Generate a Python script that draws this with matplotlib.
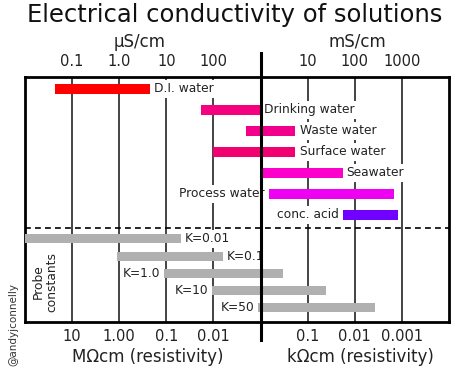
import matplotlib
matplotlib.use("Agg")
import matplotlib.pyplot as plt
import matplotlib.transforms as mtransforms

# ---- data (conductivity in µS/cm) ----
categories = ["D.I. water", "Drinking water", "Waste water", "Surface water",
              "Seawater", "Process water", "conc. acid"]
cond_low = [0.044, 55, 500, 100, 1000, 1500, 55000]
cond_high = [4.5, 950, 5500, 5500, 55000, 680000, 820000]
colors = ["#ff0000", "#f5007f", "#f2008c", "#f00070", "#fc00cc", "#ee00f2", "#7000ff"]
label_side = ["right", "right", "right", "right", "right", "left", "left"]

probes = ["K=0.01", "K=0.1", "K=1.0", "K=10", "K=50"]
probe_low = [0.01, 0.9, 9, 95, 900]
probe_high = [20, 160, 3000, 25000, 270000]
probe_side = ["right", "right", "left", "left", "left"]

tick_vals = [1e-1, 1e0, 1e1, 1e2, 1e3, 1e4, 1e5, 1e6]
top_labels = ["0.1", "1.0", "10", "100", "", "10", "100", "1000"]
bottom_labels = ["10", "1.00", "0.1", "0.01", "", "0.1", "0.01", "0.001"]

fig = plt.figure(figsize=(4.74, 3.70), dpi=100)
ax = fig.add_axes([25/474, 1-322/370, 424/474, 245/370])
ax.set_xscale("log")
ax.set_xlim(1e-2, 1e7)
ax.set_ylim(11.1, -0.57)

for s in ax.spines.values():
    s.set_linewidth(2.0)
    s.set_color("black")

ax.set_xticks(tick_vals)
ax.set_xticks([], minor=True)
ax.set_xticklabels(top_labels)
ax.tick_params(axis="x", length=0, top=False, bottom=False, labeltop=True,
               labelbottom=False, labelsize=10.5, pad=6, colors="#222222")
ax.set_yticks([])
ax.grid(axis="x", color="#111111", linewidth=1.1, zorder=0)
ax.set_axisbelow(True)

sec = ax.secondary_xaxis("bottom")
sec.set_xticks(tick_vals)
sec.set_xticklabels(bottom_labels)
sec.set_xticks([], minor=True)
sec.tick_params(axis="x", length=0, labelsize=10.5, pad=5, colors="#222222")
sec.spines["bottom"].set_visible(False)

bbox_kw = dict(boxstyle="square,pad=0.2", fc="white", ec="none")

# coloured bars
h = 0.48
for i, (lab, lo, hi, c, side) in enumerate(zip(categories, cond_low, cond_high, colors, label_side)):
    ax.barh(i, hi - lo, left=lo, height=h, color=c, zorder=3)
    if side == "right":
        ax.annotate(lab, xy=(hi, i), xytext=(3, 0), textcoords="offset points",
                    ha="left", va="center", fontsize=8.8, color="#222222", bbox=bbox_kw, zorder=4)
    else:
        ax.annotate(lab, xy=(lo, i), xytext=(-3, 0), textcoords="offset points",
                    ha="right", va="center", fontsize=8.8, color="#222222", bbox=bbox_kw, zorder=4)

# dashed separator
ax.axhline(6.62, color="black", linewidth=1.2, linestyle=(0, (3.5, 2.5)), zorder=2)

# probe bars
for j, (lab, lo, hi, side) in enumerate(zip(probes, probe_low, probe_high, probe_side)):
    y = 7.14 + 0.82 * j
    ax.barh(y, hi - lo, left=lo, height=0.43, color="#b0b0b0", zorder=3, clip_on=True)
    if side == "right":
        ax.annotate(lab, xy=(hi, y), xytext=(3, 0), textcoords="offset points",
                    ha="left", va="center", fontsize=8.8, color="#222222", bbox=bbox_kw, zorder=4)
    else:
        ax.annotate(lab, xy=(lo, y), xytext=(-3, 0), textcoords="offset points",
                    ha="right", va="center", fontsize=8.8, color="#222222", bbox=bbox_kw, zorder=4)

# centre divider line (1 mS/cm)
trans = mtransforms.blended_transform_factory(ax.transData, ax.transAxes)
ax.plot([1e3, 1e3], [-0.075, 1.098], transform=trans, color="black",
        linewidth=2.2, clip_on=False, zorder=5)

# unit labels
ax.text(0.271, 1.143, "µS/cm", transform=ax.transAxes, ha="center", va="center",
        fontsize=12, color="#222222")
ax.text(0.785, 1.143, "mS/cm", transform=ax.transAxes, ha="center", va="center",
        fontsize=12, color="#222222")
ax.text(0.29, -0.143, "MΩcm (resistivity)", transform=ax.transAxes, ha="center",
        va="center", fontsize=12, color="#222222")
ax.text(0.79, -0.143, "kΩcm (resistivity)", transform=ax.transAxes, ha="center",
        va="center", fontsize=12, color="#222222")

ax.text(0.047, 0.163, "Probe\nconstants", transform=ax.transAxes, rotation=90,
        ha="center", va="center", fontsize=8.8, color="#222222", linespacing=1.0,
        multialignment="center")

fig.text(235/474, 1-15/370, "Electrical conductivity of solutions", ha="center",
         va="center", fontsize=17.5, color="#111111")
fig.text(13/474, 1-325/370, "@andyjconnelly", rotation=90, ha="center", va="center",
         fontsize=7.5, color="#333333")

fig.savefig("out.png", dpi=100, facecolor="white")
